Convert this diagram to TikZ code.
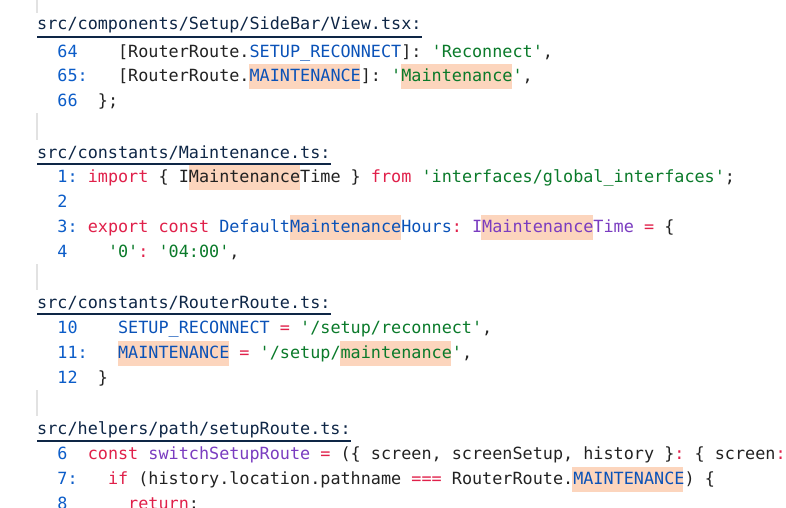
\documentclass[tikz,border=0pt]{standalone}
\usepackage{fontspec}
\setmonofont{DejaVu Sans Mono}
\definecolor{num}{HTML}{0B5CC8}
\definecolor{idb}{HTML}{0A52B8}
\definecolor{kw}{HTML}{E0204A}
\definecolor{str}{HTML}{0A7A2A}
\definecolor{pur}{HTML}{7A3CC0}
\definecolor{txt}{HTML}{222222}
\definecolor{hdr}{HTML}{0E2646}
\definecolor{hlc}{HTML}{FCD5BD}
\definecolor{bar}{HTML}{E2E2E2}
\newcommand{\cN}[1]{\textcolor{num}{#1}}
\newcommand{\cB}[1]{\textcolor{idb}{#1}}
\newcommand{\cK}[1]{\textcolor{kw}{#1}}
\newcommand{\cG}[1]{\textcolor{str}{#1}}
\newcommand{\cP}[1]{\textcolor{pur}{#1}}
\newcommand{\hlbox}[3]{\fill[hlc] ({37+#2*10.1},{#1-12.5}) rectangle ({37+(#2+#3)*10.1},{#1+12.5});}
\begin{document}
\begin{tikzpicture}[x=1pt,y=-1pt,
  code/.style={anchor=base west,inner sep=0pt,font=\fontsize{16.8}{20}\ttfamily,text=txt},
  hd/.style={code,text=hdr},
  uline/.style={draw=hdr,line width=1.5pt},
  gap/.style={draw=bar,line width=1.2pt}]
\useasboundingbox (0,0) rectangle (786,507);
\clip (0,0) rectangle (786,507);
% highlights
\hlbox{76}{21}{11}\hlbox{76}{36}{11}
\hlbox{177}{15}{11}
\hlbox{227}{25}{11}\hlbox{227}{44}{11}
\hlbox{353}{8}{11}\hlbox{353}{30}{11}
\hlbox{479}{53}{11}
% gap bars
\draw[gap] (37,0) -- (37,13);
\draw[gap] (37,113) -- (37,140);
\draw[gap] (37,264) -- (37,290);
\draw[gap] (37,390) -- (37,416);
% section 1
\node[hd] (h1) at (37,29.5) {src/components/Setup/SideBar/View.tsx:};
\draw[uline] (h1.west |- 0,37) -- (h1.east |- 0,37);
\node[code] (a1) at (37,57.5) {~~\cN{64}~~~~[RouterRoute.\cB{SETUP\_RECONNECT}]:~\cG{'Reconnect'},};
\node[code] (a2) at (37,81.5) {~~\cN{65:}~~~[RouterRoute.\cB{MAINTENANCE}]:~\cG{'Maintenance'},};
\node[code] (a3) at (37,106.5) {~~\cN{66}~~\};};
% section 2
\node[hd] (h2) at (37,158.5) {src/constants/Maintenance.ts:};
\draw[uline] (h2.west |- 0,164) -- (h2.east |- 0,164);
\node[code] (b1) at (37,182.5) {~~\cN{1:}~\cK{import}~\{~IMaintenanceTime~\}~\cK{from}~\cG{'interfaces/global\_interfaces'};};
\node[code] (b2) at (37,207.5) {~~\cN{2}};
\node[code] (b3) at (37,232.5) {~~\cN{3:}~\cK{export}~\cK{const}~\cB{DefaultMaintenanceHours}\cK{:}~\cP{IMaintenanceTime}~\cK{=}~\{};
\node[code] (b4) at (37,257.5) {~~\cN{4}~~~~\cG{'0'}\cK{:}~\cG{'04:00'},};
% section 3
\node[hd] (h3) at (37,308.5) {src/constants/RouterRoute.ts:};
\draw[uline] (h3.west |- 0,314) -- (h3.east |- 0,314);
\node[code] (c1) at (37,333.5) {~~\cN{10}~~~~\cB{SETUP\_RECONNECT}~\cK{=}~\cG{'/setup/reconnect'},};
\node[code] (c2) at (37,358.5) {~~\cN{11:}~~~\cB{MAINTENANCE}~\cK{=}~\cG{'/setup/maintenance'},};
\node[code] (c3) at (37,383.5) {~~\cN{12}~~\}};
% section 4
\node[hd] (h4) at (37,434.5) {src/helpers/path/setupRoute.ts:};
\draw[uline] (h4.west |- 0,441) -- (h4.east |- 0,441);
\node[code] (d1) at (37,459.5) {~~\cN{6}~~\cK{const}~\cP{switchSetupRoute}~\cK{=}~(\{~screen,~screenSetup,~history~\}\cK{:}~\{~screen\cK{:}};
\node[code] (d2) at (37,484.5) {~~\cN{7:}~~~\cK{if}~(history.location.pathname~\cK{===}~RouterRoute.\cB{MAINTENANCE})~\{};
\node[code] (d3) at (37,509.5) {~~\cN{8}~~~~~~\cK{return};};
\end{tikzpicture}
\end{document}
